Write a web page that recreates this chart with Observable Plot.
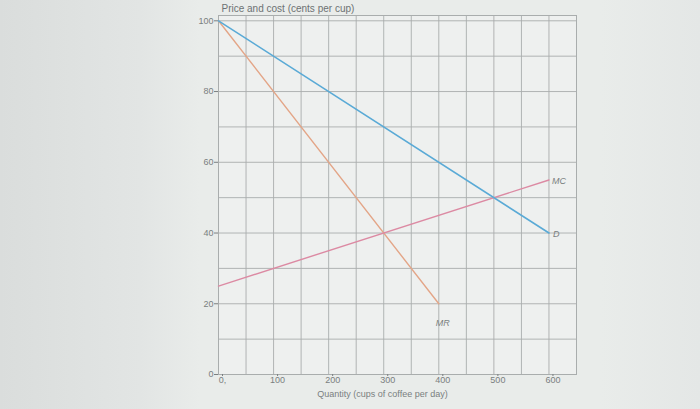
<!DOCTYPE html>
<html>
<head>
<meta charset="utf-8">
<script src="https://cdn.jsdelivr.net/npm/d3@7"></script>
<script src="https://cdn.jsdelivr.net/npm/@observablehq/plot@0.6"></script>
<style>
  html, body { margin: 0; padding: 0; background: #e4e7e6; }
  #chart { width: 700px; height: 409px; overflow: hidden;
    background: linear-gradient(to right, #dadddc 0px, #e2e5e4 140px, #e9ecea 200px, #e9ecea 600px, #e4e7e6 700px); }
  svg { display: block; }
</style>
</head>
<body>
<div id="chart"></div>
<script>
// Data
const xTicks = [0, 100, 200, 300, 400, 500, 600];
const yTicks = [0, 20, 40, 60, 80, 100];
const xGrid = [0, 50, 100, 150, 200, 250, 300, 350, 400, 450, 500, 550, 600, 650];
const yGrid = [0, 10, 20, 30, 40, 50, 60, 70, 80, 90, 100];

const demandQ = [0, 600];
const demandP = [100, 40];
const mrQ = [0, 400];
const mrP = [100, 20];
const mcQ = [0, 600];
const mcP = [25, 55];

const curveLabels = ["D", "MR", "MC"];

const toPts = (qs, ps) => qs.map((q, i) => ({q, p: ps[i]}));
const D = toPts(demandQ, demandP);
const MR = toPts(mrQ, mrP);
const MC = toPts(mcQ, mcP);

const gridColor = "#a9adad";
const textColor = "#7a7f80";

const chart = Plot.plot({
  width: 700,
  height: 409,
  marginLeft: 218,
  marginRight: 124,
  marginTop: 15,
  marginBottom: 35,
  style: {background: "transparent", fontFamily: "'Liberation Sans', Arial, sans-serif", fontSize: "9px", color: textColor},
  x: {domain: [0, 650], label: null},
  y: {domain: [0, 101.5], label: null},
  marks: [
    Plot.rect([0], {x1: 0, x2: 650, y1: 0, y2: 101.5, fill: "#eef0ef"}),
    Plot.ruleX(xGrid, {stroke: gridColor, strokeWidth: 0.9}),
    Plot.ruleY(yGrid, {stroke: gridColor, strokeWidth: 0.9}),
    Plot.frame({stroke: gridColor, strokeWidth: 1}),
    Plot.axisX({ticks: xTicks, tickSize: 2, tickPadding: 0, label: null, tickFormat: d => d === 0 ? "0," : d, color: textColor, dx: 4}),
    Plot.axisY({ticks: yTicks, tickSize: 4, tickPadding: 1, label: null, color: textColor}),
    Plot.line(MR, {x: "q", y: "p", stroke: "#e3a587", strokeWidth: 1.4}),
    Plot.line(MC, {x: "q", y: "p", stroke: "#dc8aa3", strokeWidth: 1.4}),
    Plot.line(D, {x: "q", y: "p", stroke: "#5aaad6", strokeWidth: 1.6}),
    Plot.text([D[1]], {x: "q", y: "p", text: () => curveLabels[0], dx: 4, dy: 1, textAnchor: "start", fontStyle: "italic", fill: textColor, fontSize: 9}),
    Plot.text([MR[1]], {x: "q", y: "p", text: () => curveLabels[1], dx: 4, dy: 19, textAnchor: "middle", fontStyle: "italic", fill: textColor, fontSize: 9}),
    Plot.text([MC[1]], {x: "q", y: "p", text: () => curveLabels[2], dx: 3, dy: 1, textAnchor: "start", fontStyle: "italic", fill: textColor, fontSize: 9}),
    Plot.text(["Price and cost (cents per cup)"], {frameAnchor: "top-left", text: d => d, dx: 3, dy: -4, lineAnchor: "bottom", fill: "#6d7273", fontSize: 10}),
    Plot.text(["Quantity (cups of coffee per day)"], {frameAnchor: "bottom", text: d => d, dx: -15, dy: 22, lineAnchor: "bottom", fill: textColor, fontSize: 9})
  ]
});
document.getElementById("chart").appendChild(chart);
</script>
</body>
</html>
